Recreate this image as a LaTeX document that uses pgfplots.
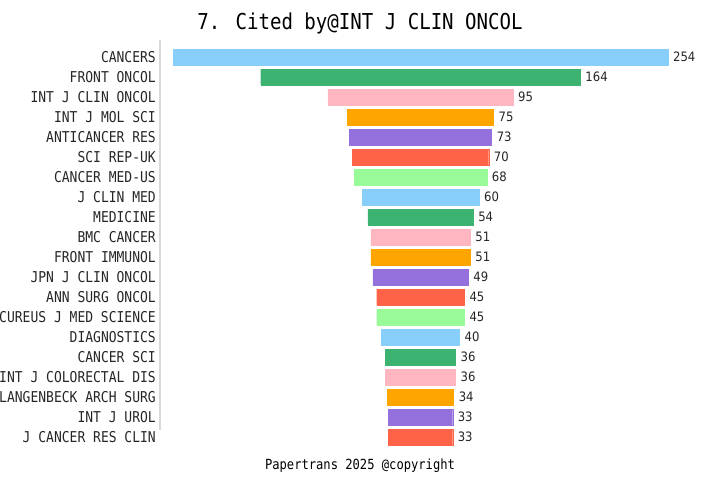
\documentclass[border=0pt]{standalone}
\usepackage{pgfplots}
\usepackage{pgfplotstable}
\pgfplotsset{compat=1.18}
\usepackage{fontspec}
\newfontfamily\lblfont[FakeStretch=0.87]{DejaVu Sans Mono}
\newfontfamily\valfont[FakeStretch=0.9]{DejaVu Sans}
\definecolor{cA}{HTML}{87CEFA}
\definecolor{cB}{HTML}{3CB371}
\definecolor{cC}{HTML}{FFB6C1}
\definecolor{cD}{HTML}{FFA500}
\definecolor{cE}{HTML}{9370DB}
\definecolor{cF}{HTML}{FF6347}
\definecolor{cG}{HTML}{98FB98}
\pgfplotstableread{
i v
0 254
7 60
14 40
}\tA
\pgfplotstableread{
i v
1 164
8 54
15 36
}\tB
\pgfplotstableread{
i v
2 95
9 51
16 36
}\tC
\pgfplotstableread{
i v
3 75
10 51
17 34
}\tD
\pgfplotstableread{
i v
4 73
11 49
18 33
}\tE
\pgfplotstableread{
i v
5 70
12 45
19 33
}\tF
\pgfplotstableread{
i v
6 68
13 45
}\tG
\begin{document}
\begin{tikzpicture}[x=1bp,y=1bp]
\useasboundingbox (0,0) rectangle (720,480);
\begin{axis}[
  at={(160bp,31bp)}, anchor=south west,
  scale only axis, width=521bp, height=409bp,
  xmin=-133.7, xmax=133.7,
  ymin=-0.85, ymax=19.6, y dir=reverse,
  axis lines=none,
  clip=false,
  /pgf/number format/assume math mode=true,
  bar width=15.7bp,
]
\newcommand{\pos}[2]{%
  \addplot[xbar, bar shift=0pt, fill=#1, draw=#1, line width=0.3bp,
    nodes near coords={\pgfmathprintnumber{\pgfplotspointmeta}},
    nodes near coords align={horizontal},
    point meta=explicit,
    every node near coord/.append style={font=\valfont\fontsize{13}{13}\selectfont, text=black!85, anchor=west, inner sep=0pt, xshift=5bp}]
    table[y=i, x expr=\thisrow{v}/2, meta=v] {#2};
  \addplot[xbar, bar shift=0pt, fill=#1, draw=#1, line width=0.3bp]
    table[y=i, x expr=-\thisrow{v}/2] {#2};
}
\pos{cA}{\tA}
\pos{cB}{\tB}
\pos{cC}{\tC}
\pos{cD}{\tD}
\pos{cE}{\tE}
\pos{cF}{\tF}
\pos{cG}{\tG}
\draw[black!15, line width=1.8bp] (axis cs:-133.7,-0.85) -- (axis cs:-133.7,18.65);
\foreach \n [count=\k from 0] in {CANCERS,FRONT ONCOL,INT J CLIN ONCOL,INT J MOL SCI,ANTICANCER RES,SCI REP-UK,CANCER MED-US,J CLIN MED,MEDICINE,BMC CANCER,FRONT IMMUNOL,JPN J CLIN ONCOL,ANN SURG ONCOL,CUREUS J MED SCIENCE,DIAGNOSTICS,CANCER SCI,INT J COLORECTAL DIS,LANGENBECK ARCH SURG,INT J UROL,J CANCER RES CLIN} {
  \edef\tmp{\noexpand\node[anchor=east, inner sep=0pt, font=\noexpand\lblfont\noexpand\fontsize{15}{15}\noexpand\selectfont, text=black!85] at (axis cs:-133.7,\k) [xshift=-4bp] {\n};}
  \tmp
}
\end{axis}
\node[font=\lblfont\fontsize{22}{22}\selectfont] at (360,457) {7. Cited by@INT J CLIN ONCOL};
\node[font=\lblfont\fontsize{14}{14}\selectfont] at (360,14) {Papertrans 2025 @copyright};
\end{tikzpicture}
\end{document}
